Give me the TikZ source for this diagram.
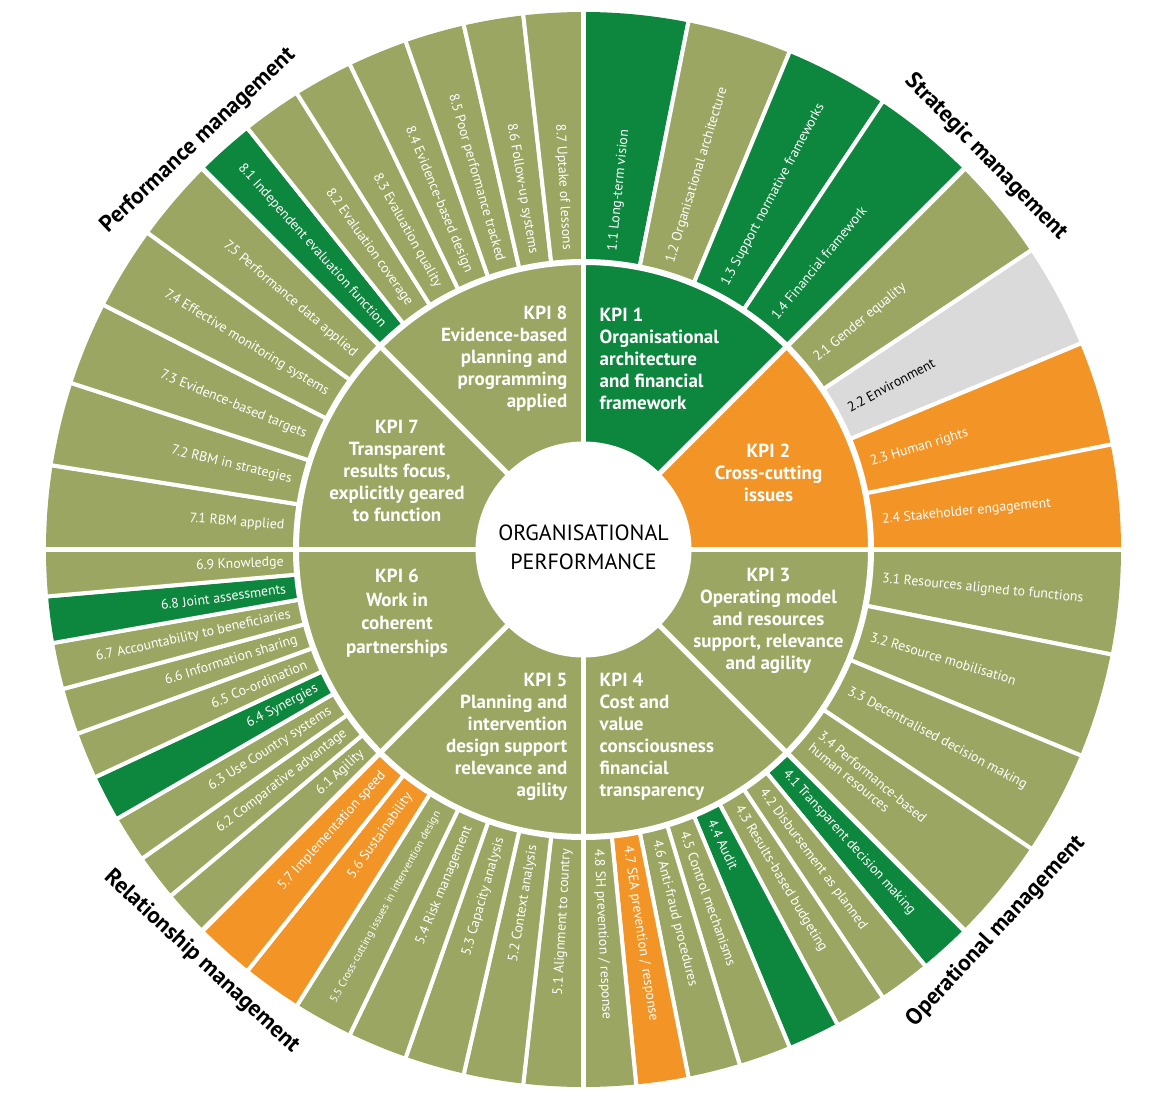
\documentclass[tikz,border=0pt]{standalone}
\usepackage{fontspec}
\setmainfont{PT Sans}
\usetikzlibrary{positioning}
\definecolor{kolive}{RGB}{156,166,99}
\definecolor{kgreen}{RGB}{14,135,62}
\definecolor{korange}{RGB}{242,148,38}
\definecolor{kgrey}{RGB}{218,218,218}

\begin{document}
\begin{tikzpicture}[x=1pt,y=1pt,
	seglabel/.style={inner sep=0pt,font=\fontsize{13.8}{15.5}\selectfont,align=left},
	kpilabel/.style={inner sep=0pt,text=white,font=\bfseries\fontsize{19}{22}\selectfont},
	mgmt/.style={inner sep=0pt,font=\bfseries\fontsize{23}{26}\selectfont},
	subsep/.style={white,line width=4pt},
	kpisep/.style={white,line width=5pt}]
	\useasboundingbox (-583.5,-563.5) rectangle (590.5,549.5);
	% outer ring: kpi/count/index/fill/text/label
	\foreach \kp/\nn/\jj/\col/\tcol/\lab in {
		1/4/1/kgreen/white/{1.1 Long-term vision},
		1/4/2/kolive/white/{1.2 Organisational architecture},
		1/4/3/kgreen/white/{1.3 Support normative frameworks},
		1/4/4/kgreen/white/{1.4 Financial framework},
		2/4/1/kolive/white/{2.1 Gender equality},
		2/4/2/kgrey/black/{2.2 Environment},
		2/4/3/korange/white/{2.3 Human rights},
		2/4/4/korange/white/{2.4 Stakeholder engagement},
		3/4/1/kolive/white/{3.1 Resources aligned to functions},
		3/4/2/kolive/white/{3.2 Resource mobilisation},
		3/4/3/kolive/white/{3.3 Decentralised decision making},
		3/4/4/kolive/white/{3.4 Performance-based\\human resources},
		4/8/1/kgreen/white/{4.1 Transparent decision making},
		4/8/2/kolive/white/{4.2 Disbursement as planned},
		4/8/3/kolive/white/{4.3 Results-based budgeting},
		4/8/4/kgreen/white/{4.4 Audit},
		4/8/5/kolive/white/{4.5 Control mechanisms},
		4/8/6/kolive/white/{4.6 Anti-fraud procedures},
		4/8/7/korange/white/{4.7 SEA prevention / response},
		4/8/8/kolive/white/{4.8 SH prevention / response},
		5/7/1/kolive/white/{5.1 Alignment to country},
		5/7/2/kolive/white/{5.2 Context analysis},
		5/7/3/kolive/white/{5.3 Capacity analysis},
		5/7/4/kolive/white/{5.4 Risk management},
		5/7/5/kolive/white/{\fontsize{11}{13}\selectfont 5.5 Cross-cutting issues in intervention design},
		5/7/6/korange/white/{5.6 Sustainability},
		5/7/7/korange/white/{5.7 Implementation speed},
		6/9/1/kolive/white/{6.1 Agility},
		6/9/2/kolive/white/{6.2 Comparative advantage},
		6/9/3/kolive/white/{6.3 Use Country systems},
		6/9/4/kgreen/white/{6.4 Synergies},
		6/9/5/kolive/white/{6.5 Co-ordination},
		6/9/6/kolive/white/{6.6 Information sharing},
		6/9/7/kolive/white/{6.7 Accountability to beneficiaries},
		6/9/8/kgreen/white/{6.8 Joint assessments},
		6/9/9/kolive/white/{6.9 Knowledge},
		7/5/1/kolive/white/{7.1 RBM applied},
		7/5/2/kolive/white/{7.2 RBM in strategies},
		7/5/3/kolive/white/{7.3 Evidence-based targets},
		7/5/4/kolive/white/{7.4 Effective monitoring systems},
		7/5/5/kolive/white/{7.5 Performance data applied},
		8/7/1/kgreen/white/{8.1 Independent evaluation function},
		8/7/2/kolive/white/{8.2 Evaluation coverage},
		8/7/3/kolive/white/{8.3 Evaluation quality},
		8/7/4/kolive/white/{8.4 Evidence-based design},
		8/7/5/kolive/white/{8.5 Poor performance tracked},
		8/7/6/kolive/white/{8.6 Follow-up systems},
		8/7/7/kolive/white/{8.7 Uptake of lessons}}{
		\pgfmathsetmacro{\sa}{90-45*(\kp-1)-45/\nn*(\jj-1)}
		\pgfmathsetmacro{\sb}{\sa-45/\nn}
		\pgfmathsetmacro{\sm}{\sa-45/\nn/2}
		\pgfmathtruncatemacro{\rgt}{(\sm>-90)*(\sm<90)}
		\fill[\col] (\sa:289) arc[start angle=\sa,end angle=\sb,radius=289] -- (\sb:537.5) arc[start angle=\sb,end angle=\sa,radius=537.5] -- cycle;
		\draw[subsep] (\sa:286) -- (\sa:541) (\sb:286) -- (\sb:541);
		\ifnum\rgt=1
			\node[seglabel,text=\tcol,anchor=west,rotate=\sm] (s\kp\jj) at (\sm:300) {\lab};
		\else
			\node[seglabel,text=\tcol,anchor=east,rotate=\sm+180] (s\kp\jj) at (\sm:300) {\lab};
		\fi
	}
	% KPI ring
	\foreach \kp/\col in {1/kgreen,2/korange,3/kolive,4/kolive,5/kolive,6/kolive,7/kolive,8/kolive}{
		\pgfmathsetmacro{\sa}{90-45*(\kp-1)}
		\fill[\col] (0,0) -- (\sa:285) arc[start angle=\sa,end angle=\sa-45,radius=285] -- cycle;
	}
	\draw[white,line width=6pt] (0,0) circle[radius=287.5];
	\foreach \sa in {0,45,...,315}
		\draw[kpisep] (0,0) -- (\sa:542);
	\fill[white] (0,0) circle[radius=108];
	\node[inner sep=0pt,align=center,font=\fontsize{22}{28.5}\selectfont] (core) at (0,2) {ORGANISATIONAL\\PERFORMANCE};
	% KPI texts
	\node[kpilabel,anchor=west,align=left] (kpi1) at (16,191) {KPI 1\\Organisational\\architecture\\and financial\\framework};
	\node[kpilabel,align=center] (kpi2) at (185,77) {KPI 2\\Cross-cutting\\issues};
	\node[kpilabel,align=center] (kpi3) at (185,-71.5) {KPI 3\\Operating model\\and resources\\support, relevance\\and agility};
	\node[kpilabel,anchor=west,align=left] (kpi4) at (16,-187.5) {KPI 4\\Cost and\\value\\consciousness\\financial\\transparency};
	\node[kpilabel,anchor=east,align=right] (kpi5) at (-16,-187.5) {KPI 5\\Planning and\\intervention\\design support\\relevance and\\agility};
	\node[kpilabel,align=center,font=\bfseries\fontsize{19}{23.7}\selectfont] (kpi6) at (-186.5,-63.5) {KPI 6\\Work in\\coherent\\partnerships};
	\node[kpilabel,align=center] (kpi7) at (-186.5,78.5) {KPI 7\\Transparent\\results focus,\\explicitly geared\\to function};
	\node[kpilabel,anchor=east,align=right] (kpi8) at (-16,191) {KPI 8\\Evidence-based\\planning and\\programming\\applied};
	% management areas
	\node[mgmt,rotate=-45.7] (strat) at (44.3:562) {Strategic management};
	\node[mgmt,rotate=43.3] (perf) at (133.3:562) {Performance management};
	\node[mgmt,rotate=47.2] (oper) at (-42.8:562) {Operational management};
	\node[mgmt,rotate=-42.8] (relat) at (-132.8:562) {Relationship management};
\end{tikzpicture}
\end{document}
